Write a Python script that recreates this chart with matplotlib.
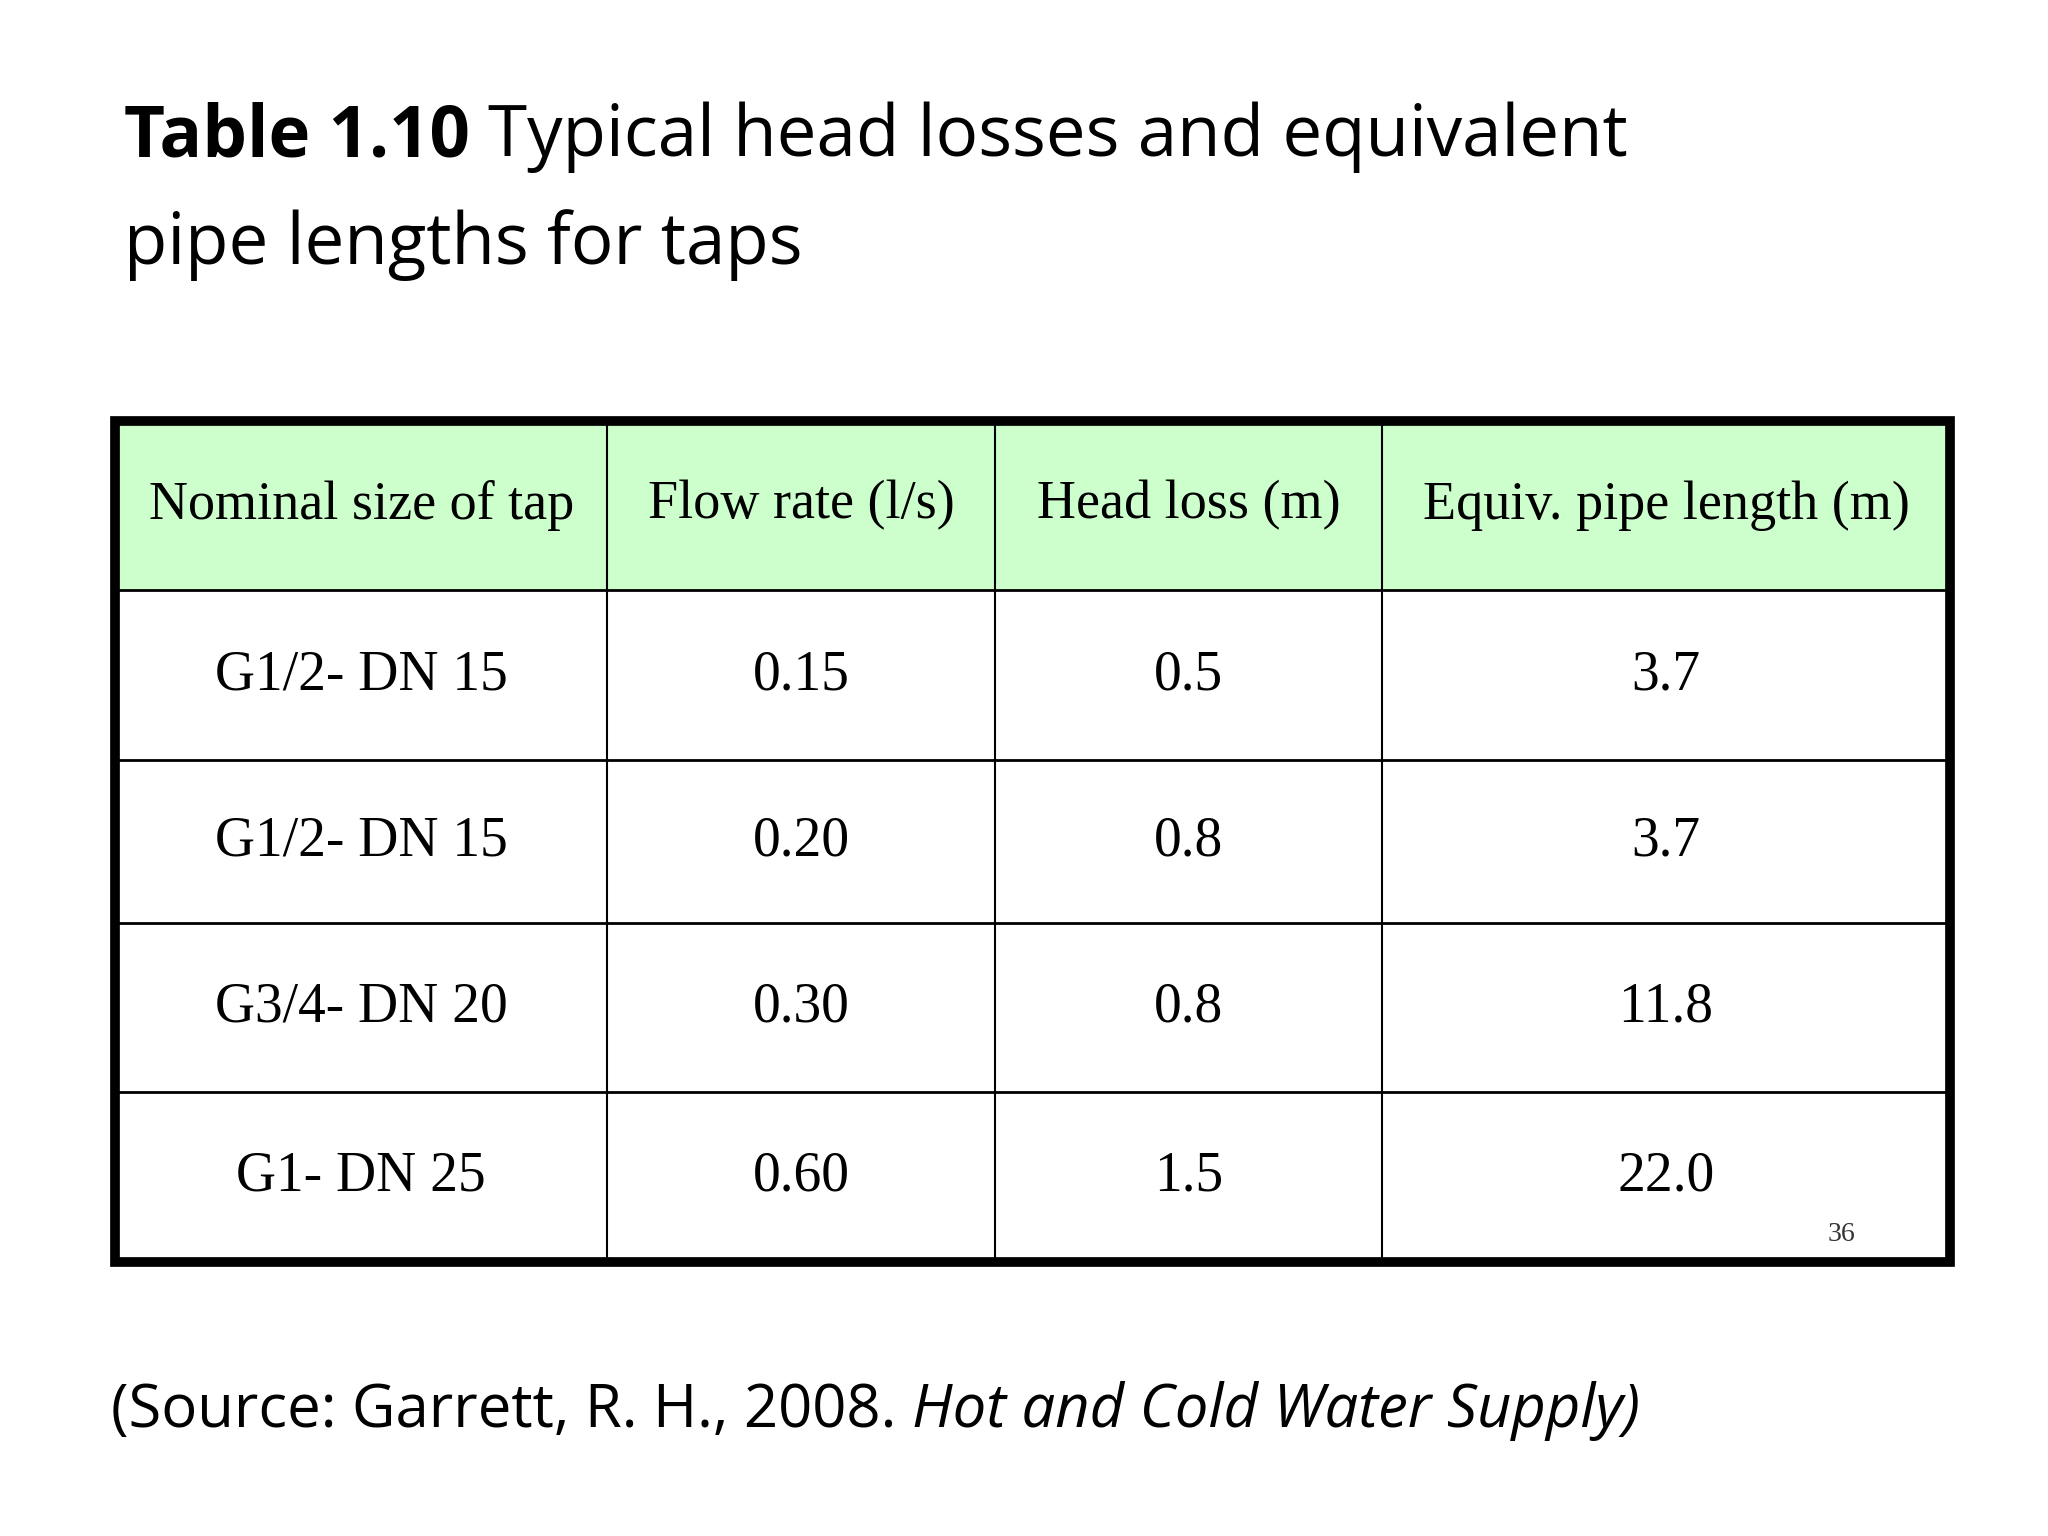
import matplotlib
matplotlib.use("Agg")
import matplotlib.pyplot as plt

# tabla de datos
headers = ["Nominal size of tap", "Flow rate (l/s)", "Head loss (m)", "Equiv. pipe length (m)"]
tap_sizes = ["G1/2- DN 15", "G1/2- DN 15", "G3/4- DN 20", "G1- DN 25"]
flow_rates = ["0.15", "0.20", "0.30", "0.60"]
head_losses = ["0.5", "0.8", "0.8", "1.5"]
pipe_lengths = ["3.7", "3.7", "11.8", "22.0"]

W, H = 1568, 1176
fig = plt.figure(figsize=(20.48, 15.36), dpi=100)
ax = fig.add_axes([0, 0, 1, 1])
ax.set_xlim(0, W)
ax.set_ylim(H, 0)
ax.axis("off")

# titulo
t1 = ax.text(95, 105, "Table 1.10 ", fontsize=51, fontweight="bold", family="Open Sans", va="center")
ax.annotate("Typical head losses and equivalent", xy=(1, 0.5), xycoords=t1,
            fontsize=51, family="Open Sans", va="center")
ax.text(95, 188, "pipe lengths for taps", fontsize=51, family="Open Sans", va="center")

# geometria de la tabla
cols = [88, 465, 762, 1058, 1493]
rows = [322, 452, 582, 707, 836, 966]

ax.add_patch(plt.Rectangle((cols[0], rows[0]), cols[-1] - cols[0], rows[1] - rows[0],
                           facecolor="#ccffcc", edgecolor="none"))
for x in cols[1:-1]:
    ax.plot([x, x], [rows[0], rows[-1]], color="black", lw=1.5)
for y in rows[1:-1]:
    ax.plot([cols[0], cols[-1]], [y, y], color="black", lw=2)
ax.add_patch(plt.Rectangle((cols[0], rows[0]), cols[-1] - cols[0], rows[-1] - rows[0],
                           facecolor="none", edgecolor="black", lw=7))

data = [tap_sizes, flow_rates, head_losses, pipe_lengths]
for j, h in enumerate(headers):
    xc = (cols[j] + cols[j + 1]) / 2
    ax.text(xc, (rows[0] + rows[1]) / 2, h, fontsize=39, family="Liberation Serif",
            ha="center", va="center")
    for i, v in enumerate(data[j]):
        ax.text(xc, (rows[i + 1] + rows[i + 2]) / 2, v, fontsize=40, family="Liberation Serif",
                ha="center", va="center")

ax.text(1410, 945, "36", fontsize=20, family="Liberation Serif", ha="center", va="center", color="#333333")

# fuente
s1 = ax.text(85, 1080, "(Source: Garrett, R. H., 2008. ", fontsize=43, family="Open Sans", va="center")
ax.annotate("Hot and Cold Water Supply)", xy=(1, 0.5), xycoords=s1, fontsize=43,
            family="Open Sans", style="italic", va="center")

fig.savefig("out.png", dpi=100, facecolor="white")
